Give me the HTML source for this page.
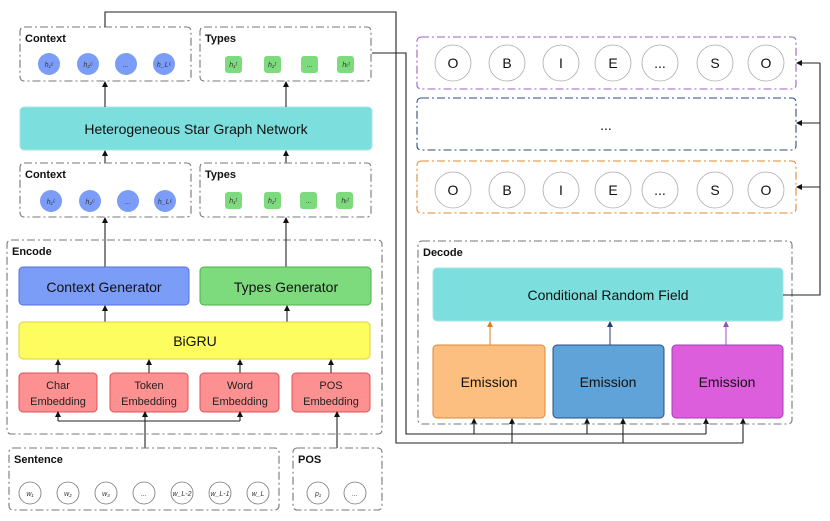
<!DOCTYPE html>
<html><head><meta charset="utf-8"><style>
html,body{margin:0;padding:0;background:#fff;width:830px;height:521px;overflow:hidden}
svg{display:block}
text{font-family:"Liberation Sans","DejaVu Sans",sans-serif}
.lbl{font-size:11px;font-weight:bold;fill:#111}
.dash{fill:none;stroke:#777;stroke-width:1.1;stroke-dasharray:8 3 2 3}
.ln{fill:none;stroke:#222;stroke-width:1.1}
.sm{font-size:7px;font-style:italic;fill:#333;text-anchor:middle}
</style></head><body>
<svg width="830" height="521" viewBox="0 0 830 521">
<defs>
<marker id="a" markerWidth="6" markerHeight="6" refX="3" refY="3" orient="auto" markerUnits="userSpaceOnUse"><path d="M0,0 L6,3 L0,6z" fill="#111"/></marker>
<marker id="ao" markerWidth="6" markerHeight="6" refX="3" refY="3" orient="auto" markerUnits="userSpaceOnUse"><path d="M0,0 L6,3 L0,6z" fill="#e07b20"/></marker>
<marker id="ab" markerWidth="6" markerHeight="6" refX="3" refY="3" orient="auto" markerUnits="userSpaceOnUse"><path d="M0,0 L6,3 L0,6z" fill="#1f3f7a"/></marker>
<marker id="ap" markerWidth="6" markerHeight="6" refX="3" refY="3" orient="auto" markerUnits="userSpaceOnUse"><path d="M0,0 L6,3 L0,6z" fill="#9a4fc0"/></marker>
</defs>

<!-- top context / types -->
<rect class="dash" x="20" y="27" width="171" height="54" rx="4"/>
<text class="lbl" x="25" y="42">Context</text>
<g fill="#7b9cf7"><circle cx="49" cy="64" r="11"/><circle cx="88" cy="64" r="11"/><circle cx="126" cy="64" r="11"/><circle cx="164" cy="64" r="11"/></g>
<text class="sm" x="49" y="67">h₁ᶜ</text><text class="sm" x="88" y="67">h₂ᶜ</text><text class="sm" x="126" y="67">...</text><text class="sm" x="164" y="67">h_Lᶜ</text>
<rect class="dash" x="200" y="27" width="171" height="54" rx="4"/>
<text class="lbl" x="205" y="42">Types</text>
<g fill="#7ddb7d"><rect x="225" y="56" width="17" height="17" rx="3"/><rect x="264" y="56" width="17" height="17" rx="3"/><rect x="301" y="56" width="17" height="17" rx="3"/><rect x="337" y="56" width="17" height="17" rx="3"/></g>
<text class="sm" x="233" y="67">h₁ᵗ</text><text class="sm" x="272" y="67">h₂ᵗ</text><text class="sm" x="310" y="67">...</text><text class="sm" x="346" y="67">hₜᵗ</text>

<rect x="20" y="107" width="352" height="43" rx="4" fill="#7ddede" stroke="#a6e6e6"/>
<text x="196" y="134" font-size="14" text-anchor="middle" fill="#111">Heterogeneous Star Graph Network</text>
<line class="ln" x1="105" y1="107" x2="105" y2="84" marker-end="url(#a)"/>
<line class="ln" x1="286" y1="107" x2="286" y2="84" marker-end="url(#a)"/>
<line class="ln" x1="105" y1="163" x2="105" y2="153" marker-end="url(#a)"/>
<line class="ln" x1="286" y1="163" x2="286" y2="153" marker-end="url(#a)"/>

<!-- second context / types -->
<rect class="dash" x="20" y="163" width="171" height="54" rx="4"/>
<text class="lbl" x="25" y="178">Context</text>
<g fill="#7b9cf7"><circle cx="51" cy="201" r="11"/><circle cx="90" cy="201" r="11"/><circle cx="128" cy="201" r="11"/><circle cx="165" cy="201" r="11"/></g>
<text class="sm" x="51" y="204">h₁ᶜ</text><text class="sm" x="90" y="204">h₂ᶜ</text><text class="sm" x="128" y="204">...</text><text class="sm" x="165" y="204">h_Lᶜ</text>
<rect class="dash" x="200" y="163" width="171" height="54" rx="4"/>
<text class="lbl" x="205" y="178">Types</text>
<g fill="#7ddb7d"><rect x="225" y="192" width="17" height="17" rx="3"/><rect x="264" y="192" width="17" height="17" rx="3"/><rect x="300" y="192" width="17" height="17" rx="3"/><rect x="336" y="192" width="17" height="17" rx="3"/></g>
<text class="sm" x="233" y="203">h₁ᵗ</text><text class="sm" x="272" y="203">h₂ᵗ</text><text class="sm" x="309" y="203">...</text><text class="sm" x="345" y="203">hₜᵗ</text>

<!-- Encode -->
<rect class="dash" x="7" y="240" width="375" height="194" rx="4"/>
<text class="lbl" x="12" y="255">Encode</text>
<line class="ln" x1="105" y1="267" x2="105" y2="220" marker-end="url(#a)"/>
<line class="ln" x1="286" y1="267" x2="286" y2="220" marker-end="url(#a)"/>
<rect x="19" y="267" width="170" height="38" rx="4" fill="#7b9cf7" stroke="#5670e0"/>
<text x="104" y="292" font-size="14" text-anchor="middle" fill="#111">Context Generator</text>
<rect x="200" y="267" width="171" height="38" rx="4" fill="#7ddb7d" stroke="#4cb04c"/>
<text x="286" y="292" font-size="14" text-anchor="middle" fill="#111">Types Generator</text>
<line class="ln" x1="105" y1="322" x2="105" y2="308" marker-end="url(#a)"/>
<line class="ln" x1="287" y1="322" x2="287" y2="308" marker-end="url(#a)"/>
<rect x="19" y="322" width="351" height="37" rx="4" fill="#fdfd60" stroke="#e0d040"/>
<text x="195" y="346" font-size="14" text-anchor="middle" fill="#111">BiGRU</text>
<g class="ln"><line x1="58" y1="373" x2="58" y2="362" marker-end="url(#a)"/><line x1="149" y1="373" x2="149" y2="362" marker-end="url(#a)"/><line x1="240" y1="373" x2="240" y2="362" marker-end="url(#a)"/><line x1="331" y1="373" x2="331" y2="362" marker-end="url(#a)"/></g>
<g fill="#fd9090" stroke="#e05050"><rect x="19" y="373" width="78" height="39" rx="4"/><rect x="110" y="373" width="78" height="39" rx="4"/><rect x="200" y="373" width="79" height="39" rx="4"/><rect x="292" y="373" width="78" height="39" rx="4"/></g>
<g font-size="11" text-anchor="middle" fill="#222">
<text x="58" y="389">Char</text><text x="58" y="405">Embedding</text>
<text x="149" y="389">Token</text><text x="149" y="405">Embedding</text>
<text x="240" y="389">Word</text><text x="240" y="405">Embedding</text>
<text x="331" y="389">POS</text><text x="331" y="405">Embedding</text></g>
<path class="ln" d="M58,421 H240" />
<line class="ln" x1="58" y1="421" x2="58" y2="414" marker-end="url(#a)"/>
<line class="ln" x1="240" y1="421" x2="240" y2="414" marker-end="url(#a)"/>
<line class="ln" x1="145" y1="448" x2="145" y2="414" marker-end="url(#a)"/>
<line class="ln" x1="337" y1="448" x2="337" y2="414" marker-end="url(#a)"/>

<!-- Sentence / POS -->
<rect class="dash" x="9" y="448" width="270" height="62" rx="4"/>
<text class="lbl" x="14" y="463">Sentence</text>
<g fill="#fff" stroke="#777" stroke-width="0.8">
<circle cx="30" cy="493" r="11"/><circle cx="68" cy="493" r="11"/><circle cx="106" cy="493" r="11"/><circle cx="144" cy="493" r="11"/><circle cx="182" cy="493" r="11"/><circle cx="220" cy="493" r="11"/><circle cx="258" cy="493" r="11"/>
<circle cx="318" cy="493" r="11"/><circle cx="355" cy="493" r="11"/></g>
<g class="sm"><text x="30" y="496">w₁</text><text x="68" y="496">w₂</text><text x="106" y="496">w₃</text><text x="144" y="496">...</text><text x="182" y="496">w_L-2</text><text x="220" y="496">w_L-1</text><text x="258" y="496">w_L</text><text x="318" y="496">p₁</text><text x="355" y="496">...</text></g>
<rect class="dash" x="293" y="448" width="89" height="62" rx="4"/>
<text class="lbl" x="298" y="463">POS</text>

<!-- connectors to decode -->
<path class="ln" d="M105,27 V12 H396 V443 H743"/>
<path class="ln" d="M372,53 H406 V434 H706"/>
<g class="ln">
<line x1="474" y1="434" x2="474" y2="421" marker-end="url(#a)"/>
<line x1="587" y1="434" x2="587" y2="421" marker-end="url(#a)"/>
<line x1="706" y1="434" x2="706" y2="421" marker-end="url(#a)"/>
<line x1="512" y1="443" x2="512" y2="421" marker-end="url(#a)"/>
<line x1="623" y1="443" x2="623" y2="421" marker-end="url(#a)"/>
<line x1="743" y1="443" x2="743" y2="421" marker-end="url(#a)"/>
</g>

<!-- Decode -->
<rect class="dash" x="418" y="241" width="374" height="183" rx="4"/>
<text class="lbl" x="423" y="256">Decode</text>
<rect x="433" y="268" width="350" height="53" rx="4" fill="#7ddede" stroke="#a6e6e6"/>
<text x="608" y="300" font-size="14" text-anchor="middle" fill="#111">Conditional Random Field</text>
<line x1="490" y1="345" x2="490" y2="324" stroke="#e07b20" marker-end="url(#ao)"/>
<line x1="610" y1="345" x2="610" y2="324" stroke="#1f3f7a" marker-end="url(#ab)"/>
<line x1="726" y1="345" x2="726" y2="324" stroke="#9a4fc0" marker-end="url(#ap)"/>
<rect x="433" y="345" width="112" height="73" rx="4" fill="#fdbf80" stroke="#e08a30"/>
<rect x="553" y="345" width="111" height="73" rx="4" fill="#5fa3d8" stroke="#2a4d80"/>
<rect x="672" y="345" width="111" height="73" rx="4" fill="#dc5edc" stroke="#a040b0"/>
<g font-size="14" text-anchor="middle" fill="#111"><text x="489" y="387">Emission</text><text x="608" y="387">Emission</text><text x="727" y="387">Emission</text></g>

<path class="ln" d="M783,295 H820 V63"/>
<line class="ln" x1="820" y1="63" x2="799" y2="63" marker-end="url(#a)"/>
<line class="ln" x1="820" y1="123" x2="799" y2="123" marker-end="url(#a)"/>
<line class="ln" x1="820" y1="187" x2="799" y2="187" marker-end="url(#a)"/>

<!-- tag rows -->
<rect x="417" y="37" width="379" height="52" rx="4" fill="none" stroke="#9a60c8" stroke-width="1.1" stroke-dasharray="8 3 2 3"/>
<rect x="417" y="98" width="379" height="52" rx="4" fill="none" stroke="#2a4d80" stroke-width="1.1" stroke-dasharray="8 3 2 3"/>
<rect x="417" y="161" width="379" height="52" rx="4" fill="none" stroke="#e08a30" stroke-width="1.1" stroke-dasharray="8 3 2 3"/>
<text x="606" y="130" font-size="14" text-anchor="middle" fill="#111">...</text>
<g fill="#fff" stroke="#aaa" stroke-width="0.8">
<circle cx="453" cy="63" r="18"/><circle cx="507" cy="63" r="18"/><circle cx="561" cy="63" r="18"/><circle cx="613" cy="63" r="18"/><circle cx="660" cy="63" r="18"/><circle cx="715" cy="63" r="18"/><circle cx="766" cy="63" r="18"/>
<circle cx="453" cy="190" r="18"/><circle cx="507" cy="190" r="18"/><circle cx="561" cy="190" r="18"/><circle cx="613" cy="190" r="18"/><circle cx="660" cy="190" r="18"/><circle cx="715" cy="190" r="18"/><circle cx="766" cy="190" r="18"/></g>
<g font-size="14" text-anchor="middle" fill="#111">
<text x="453" y="68">O</text><text x="507" y="68">B</text><text x="561" y="68">I</text><text x="613" y="68">E</text><text x="660" y="68">...</text><text x="715" y="68">S</text><text x="766" y="68">O</text>
<text x="453" y="195">O</text><text x="507" y="195">B</text><text x="561" y="195">I</text><text x="613" y="195">E</text><text x="660" y="195">...</text><text x="715" y="195">S</text><text x="766" y="195">O</text></g>
</svg>
</body></html>
